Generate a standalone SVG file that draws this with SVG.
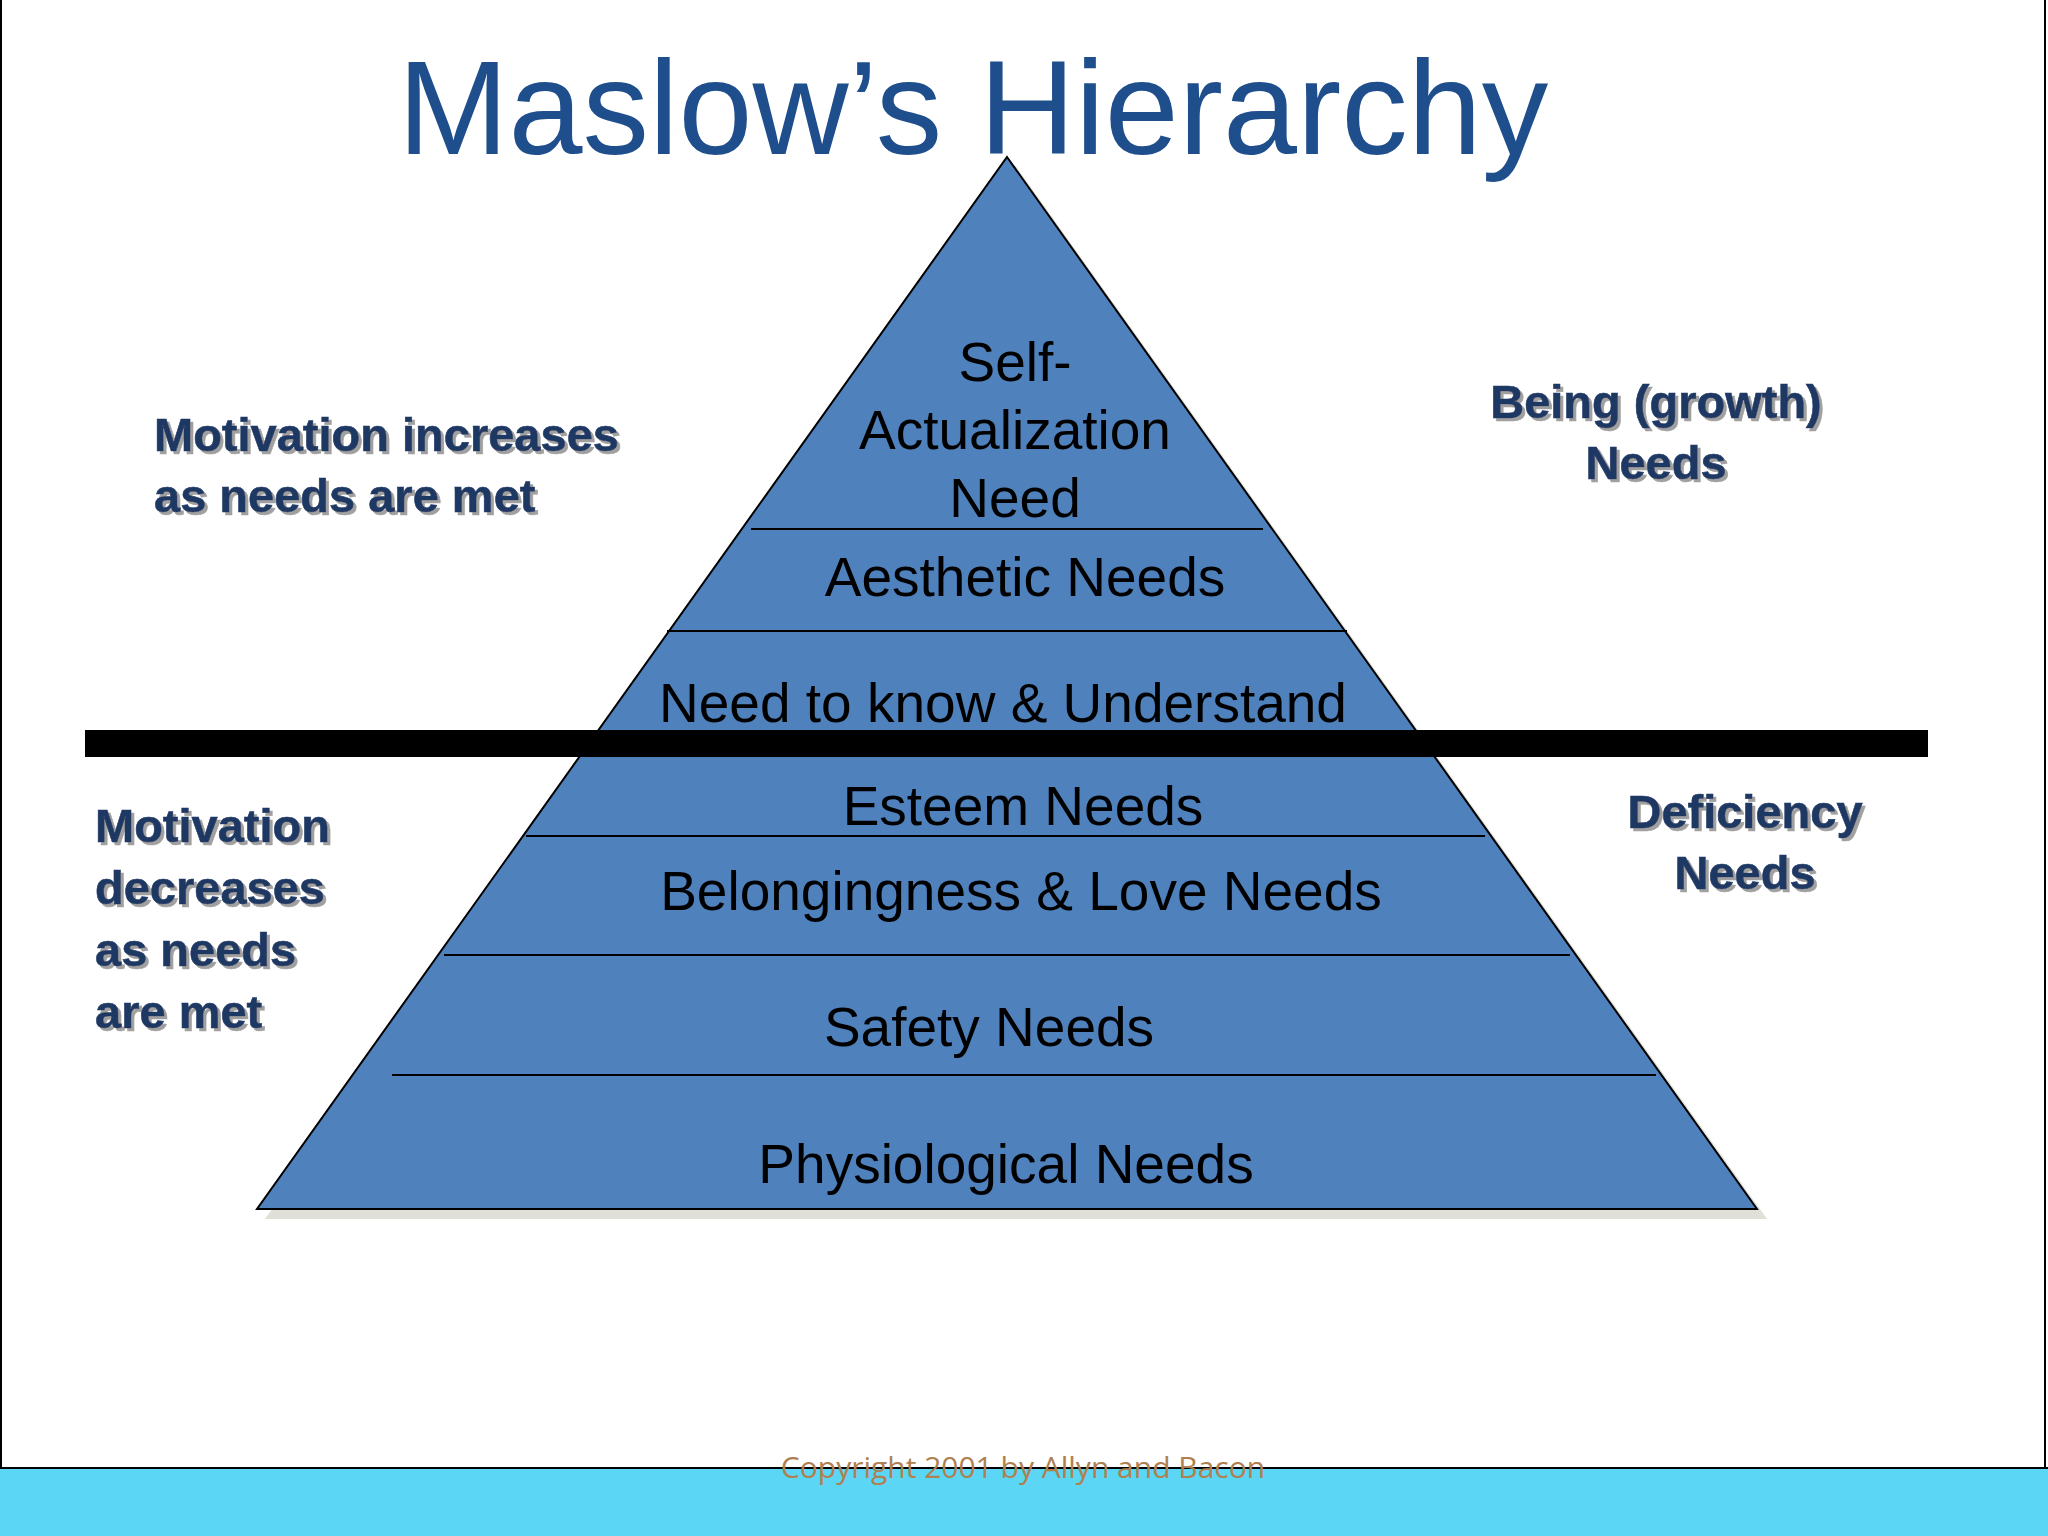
<svg xmlns="http://www.w3.org/2000/svg" width="2048" height="1536" viewBox="0 0 2048 1536">
<style>
.lvl{font-family:"Liberation Sans",Arial,sans-serif;font-size:55px;fill:#000;text-anchor:middle}
.side{font-family:"Liberation Sans",Arial,sans-serif;font-size:47px;font-weight:bold;fill:#1F3864;stroke:#1F3864;stroke-width:0.6}
.sep{stroke:#000;stroke-width:2}
</style>
<defs>
<filter id="sh" x="-10%" y="-10%" width="130%" height="140%"><feDropShadow dx="3" dy="3" stdDeviation="0.5" flood-color="#A0A0A0"/></filter>
</defs>
<rect x="0" y="0" width="2048" height="1536" fill="#fff"/>
<rect x="1" y="-2" width="2044" height="1470" fill="none" stroke="#000" stroke-width="2"/>
<rect x="0" y="1468" width="2048" height="68" fill="#5BD7F5"/>
<line x1="0" y1="1468" x2="2048" y2="1468" stroke="#000" stroke-width="2"/>
<text x="1023" y="1478" font-family="Open Sans,Liberation Sans,sans-serif" font-size="30" fill="#B08050" text-anchor="middle">Copyright 2001 by Allyn and Bacon</text>
<text x="973" y="154" font-family="Liberation Sans,Arial,sans-serif" font-size="133" fill="#1F4E8C" text-anchor="middle">Maslow’s Hierarchy</text>
<g id="pyramid">
<polygon points="1015,165 1767,1219 265,1219" fill="#E0E0D8"/>
<polygon points="1007,157 1757,1209 257,1209" fill="#4F81BD" stroke="#000" stroke-width="2"/>
</g>
<g id="lines">
<line class="sep" x1="751" y1="529" x2="1263" y2="529"/>
<line class="sep" x1="667" y1="631" x2="1347" y2="631"/>
<line class="sep" x1="526" y1="836" x2="1485" y2="836"/>
<line class="sep" x1="444" y1="955" x2="1570" y2="955"/>
<line class="sep" x1="392" y1="1075" x2="1656" y2="1075"/>
<rect x="85" y="730" width="1843" height="27" fill="#000"/>
</g>
<g id="self"><text class="lvl" x="1015" y="381">Self-</text><text class="lvl" x="1015" y="449">Actualization</text><text class="lvl" x="1015" y="517">Need</text></g>
<g id="aesthetic"><text class="lvl" x="1025" y="596">Aesthetic Needs</text></g>
<g id="know"><text class="lvl" x="1003" y="722">Need to know &amp; Understand</text></g>
<g id="esteem"><text class="lvl" x="1023" y="825">Esteem Needs</text></g>
<g id="belong"><text class="lvl" x="1021" y="910">Belongingness &amp; Love Needs</text></g>
<g id="safety"><text class="lvl" x="989" y="1046">Safety Needs</text></g>
<g id="phys"><text class="lvl" x="1006" y="1183">Physiological Needs</text></g>
<g id="inc" filter="url(#sh)"><text class="side" x="154" y="451">Motivation increases</text><text class="side" x="154" y="512">as needs are met</text></g>
<g id="dec" filter="url(#sh)"><text class="side" x="95" y="842">Motivation</text><text class="side" x="95" y="904">decreases</text><text class="side" x="95" y="966">as needs</text><text class="side" x="95" y="1028">are met</text></g>
<g id="being" filter="url(#sh)"><text class="side" x="1656" y="418" text-anchor="middle">Being (growth)</text><text class="side" x="1656" y="479" text-anchor="middle">Needs</text></g>
<g id="def" filter="url(#sh)"><text class="side" x="1745" y="828" text-anchor="middle">Deficiency</text><text class="side" x="1745" y="889" text-anchor="middle">Needs</text></g>
</svg>
